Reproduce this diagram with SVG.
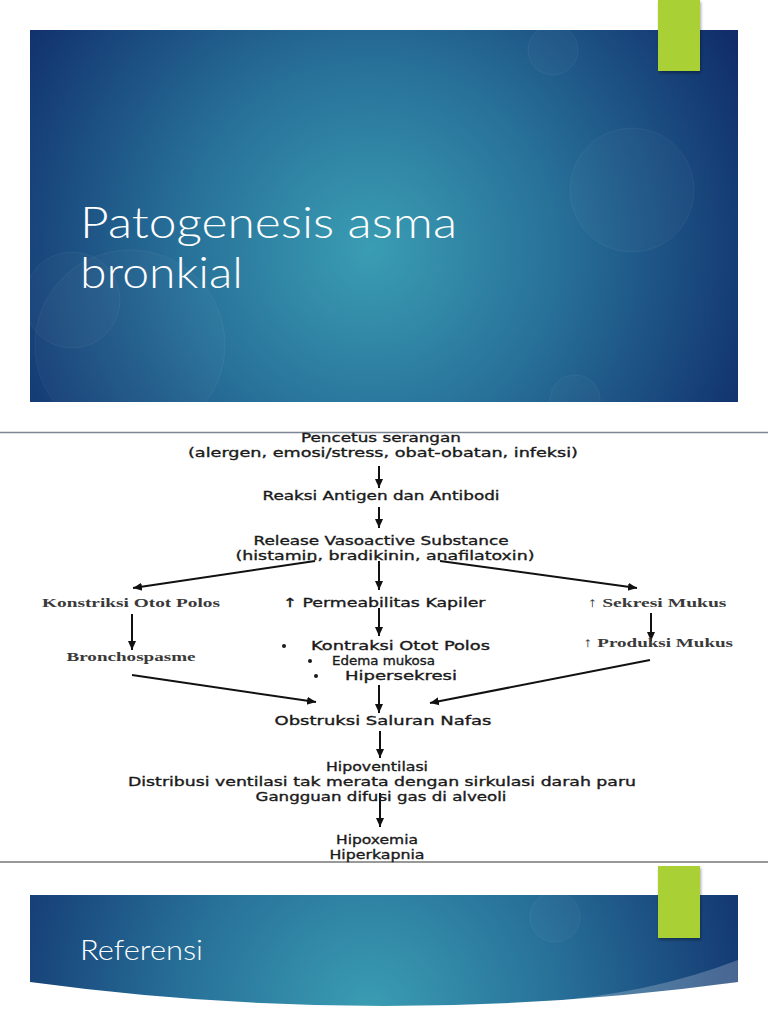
<svg xmlns="http://www.w3.org/2000/svg" width="768" height="1024" viewBox="0 0 768 1024">
<defs>
<radialGradient id="bgTop" gradientUnits="userSpaceOnUse" cx="370" cy="250" r="430">
<stop offset="0" stop-color="#3a9db3"/>
<stop offset="0.45" stop-color="#276f98"/>
<stop offset="1" stop-color="#0f2a68"/>
</radialGradient>
<radialGradient id="bgBot" gradientUnits="userSpaceOnUse" cx="370" cy="1010" r="430">
<stop offset="0" stop-color="#3a9db3"/>
<stop offset="0.45" stop-color="#276f98"/>
<stop offset="1" stop-color="#0f2a68"/>
</radialGradient>
<filter id="sh" x="-30%" y="-30%" width="160%" height="160%">
<feDropShadow dx="1" dy="2" stdDeviation="1.5" flood-color="#000" flood-opacity="0.35"/>
</filter>
<marker id="ah" markerUnits="userSpaceOnUse" markerWidth="10" markerHeight="10" refX="9" refY="5" orient="auto">
<path d="M0,1 L9,5 L0,9 Z" fill="#111"/>
</marker>
<style>
.ttl{font-family:Lato,"Open Sans",sans-serif;font-weight:300;fill:#fff}
.fc{font-family:"DejaVu Sans",sans-serif;font-size:12.5px;fill:#1a1a1a;stroke:#1a1a1a;stroke-width:0.35}
.sf{font-family:"Liberation Serif",serif;font-size:13.5px;font-weight:bold;fill:#3a3a3a}
.bub{fill:#fff;fill-opacity:0.025;stroke:#fff;stroke-opacity:0.05}
.cn{stroke:#111;stroke-width:2;fill:none;marker-end:url(#ah)}
</style>
</defs>
<rect width="768" height="1024" fill="#fff"/>

<g id="slide-top">
<rect x="30" y="30" width="708" height="372" fill="url(#bgTop)"/>
<circle class="bub" cx="553" cy="50" r="25"/>
<circle class="bub" cx="632" cy="190" r="62"/>
<circle class="bub" cx="72" cy="300" r="48"/>
<circle class="bub" cx="130" cy="345" r="95"/>
<circle class="bub" cx="575" cy="400" r="25"/>
<rect x="658" y="0" width="42" height="71" fill="#a9d134" filter="url(#sh)"/>
<text class="ttl" x="80" y="238" font-size="43" textLength="377" lengthAdjust="spacingAndGlyphs">Patogenesis asma</text>
<text class="ttl" x="80" y="288" font-size="43" textLength="163" lengthAdjust="spacingAndGlyphs">bronkial</text>
</g>

<line x1="0" y1="432.5" x2="768" y2="432.5" stroke="#7d8794" stroke-width="1.5"/>
<line x1="0" y1="862" x2="768" y2="862" stroke="#999" stroke-width="2"/>

<g id="connectors">
<line class="cn" x1="379" y1="466" x2="379" y2="488"/>
<line class="cn" x1="379" y1="507" x2="379" y2="528"/>
<line class="cn" x1="315" y1="561" x2="133" y2="588"/>
<line class="cn" x1="379" y1="561" x2="379" y2="590"/>
<line class="cn" x1="440" y1="561" x2="637" y2="588"/>
<line class="cn" x1="132" y1="614" x2="132" y2="650"/>
<line class="cn" x1="379" y1="608" x2="379" y2="636"/>
<line class="cn" x1="651" y1="613" x2="651" y2="641"/>
<line class="cn" x1="379" y1="685" x2="379" y2="713"/>
<line class="cn" x1="132" y1="675" x2="316" y2="702"/>
<line class="cn" x1="650" y1="660" x2="430" y2="703"/>
<line class="cn" x1="380" y1="731" x2="380" y2="758"/>
<line class="cn" x1="380" y1="793" x2="380" y2="827"/>
</g>

<g id="n-pencetus">
<text class="fc" x="381" y="442" text-anchor="middle" textLength="160" lengthAdjust="spacingAndGlyphs">Pencetus serangan</text>
<text class="fc" x="383" y="457" text-anchor="middle" textLength="390" lengthAdjust="spacingAndGlyphs">(alergen, emosi/stress, obat-obatan, infeksi)</text>
</g>
<g id="n-reaksi">
<text class="fc" x="381" y="500" text-anchor="middle" textLength="237" lengthAdjust="spacingAndGlyphs">Reaksi Antigen dan Antibodi</text>
</g>
<g id="n-release">
<text class="fc" x="381" y="545" text-anchor="middle" textLength="255" lengthAdjust="spacingAndGlyphs">Release Vasoactive Substance</text>
<text class="fc" x="385" y="560" text-anchor="middle" textLength="299" lengthAdjust="spacingAndGlyphs">(histamin, bradikinin, anafilatoxin)</text>
</g>
<g id="n-konstriksi">
<text class="sf" x="131" y="607" text-anchor="middle" textLength="178" lengthAdjust="spacingAndGlyphs">Konstriksi Otot Polos</text>
</g>
<g id="n-permeabilitas">
<text class="fc" x="384" y="607" text-anchor="middle" textLength="203" lengthAdjust="spacingAndGlyphs">↑ Permeabilitas Kapiler</text>
</g>
<g id="n-sekresi">
<text class="sf" x="657" y="607" text-anchor="middle" textLength="139" lengthAdjust="spacingAndGlyphs">↑ Sekresi Mukus</text>
</g>
<g id="n-broncho">
<text class="sf" x="131" y="661" text-anchor="middle" textLength="129" lengthAdjust="spacingAndGlyphs">Bronchospasme</text>
</g>
<g id="n-produksi">
<text class="sf" x="658" y="647" text-anchor="middle" textLength="150" lengthAdjust="spacingAndGlyphs">↑ Produksi Mukus</text>
</g>
<g id="n-bullets">
<circle cx="284" cy="646" r="2" fill="#1a1a1a"/>
<text class="fc" x="311" y="650" textLength="179" lengthAdjust="spacingAndGlyphs">Kontraksi Otot Polos</text>
<circle cx="310" cy="661" r="2" fill="#1a1a1a"/>
<text class="fc" x="332" y="665" textLength="103" lengthAdjust="spacingAndGlyphs">Edema mukosa</text>
<circle cx="316" cy="676" r="2" fill="#1a1a1a"/>
<text class="fc" x="345" y="680" textLength="112" lengthAdjust="spacingAndGlyphs">Hipersekresi</text>
</g>
<g id="n-obstruksi">
<text class="fc" x="383" y="725" text-anchor="middle" textLength="217" lengthAdjust="spacingAndGlyphs">Obstruksi Saluran Nafas</text>
</g>
<g id="n-hipoventilasi">
<text class="fc" x="377" y="771" text-anchor="middle" textLength="102" lengthAdjust="spacingAndGlyphs">Hipoventilasi</text>
<text class="fc" x="382" y="786" text-anchor="middle" textLength="508" lengthAdjust="spacingAndGlyphs">Distribusi ventilasi tak merata dengan sirkulasi darah paru</text>
<text class="fc" x="381" y="801" text-anchor="middle" textLength="251" lengthAdjust="spacingAndGlyphs">Gangguan difusi gas di alveoli</text>
</g>
<g id="n-hipoxemia">
<text class="fc" x="377" y="844" text-anchor="middle" textLength="82" lengthAdjust="spacingAndGlyphs">Hipoxemia</text>
<text class="fc" x="377" y="859" text-anchor="middle" textLength="95" lengthAdjust="spacingAndGlyphs">Hiperkapnia</text>
</g>

<g id="slide-bottom">
<path d="M30,895 H738 V982 Q384,1030 30,982 Z" fill="url(#bgBot)"/>
<circle class="bub" cx="555" cy="917" r="25"/>
<path d="M738,960 Q650,994 540,1002 Q650,996 738,982 Z" fill="#fff" fill-opacity="0.22"/>
<rect x="658" y="866" width="42" height="72" fill="#a9d134" filter="url(#sh)"/>
<text class="ttl" x="80" y="960" font-size="28" textLength="123" lengthAdjust="spacingAndGlyphs">Referensi</text>
</g>
</svg>
